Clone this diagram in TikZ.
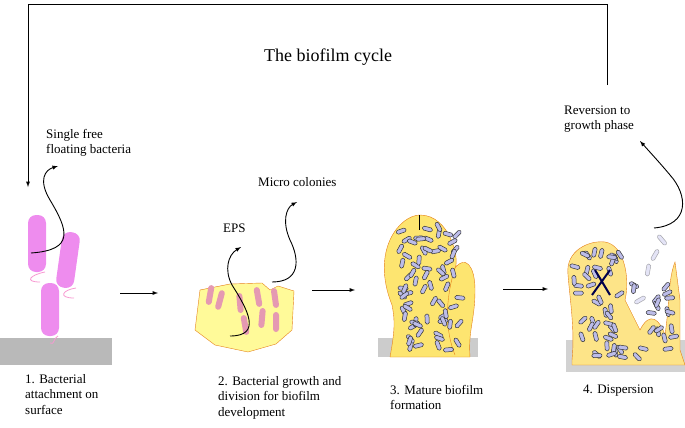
\documentclass[tikz,border=0pt]{standalone}
\usepackage{fontspec}
\setmainfont{Liberation Serif}
\begin{document}
\begin{tikzpicture}[x=1pt,y=-1pt,
  lbl/.style={font=\fontsize{13}{15.5}\selectfont,align=left,inner sep=0pt},
  arr/.style={-latex,line width=0.9pt},
  purp/.style={fill=violet!30!magenta!45,draw=none,rounded corners=8pt},
  rod/.style={fill=gray!50!blue!35,draw=gray!40!black,line width=0.5pt,rounded corners=1.5pt},
  blob/.style={fill=yellow!70!orange!55,draw=orange!60!brown,line width=0.4pt}]
\useasboundingbox (0,0) rectangle (685,428);
% top loop
\coordinate (ls) at (607,85);
\coordinate (le) at (28,187);
\draw[arr] (ls) -- (607,4) -- (28,4) -- (le);
\node[font=\fontsize{18}{20}\selectfont] (title) at (328,57) {The biofilm cycle};
% labels
\node[lbl,anchor=west] (sf) at (46,143) {Single free\\floating bacteria};
\node[lbl,anchor=west] (mc) at (258,182) {Micro colonies};
\node[lbl,anchor=west] (eps) at (223,228) {EPS};
\node[lbl,anchor=west] (rv) at (564,119) {Reversion to\\growth phase};
\node[lbl,anchor=north west] (s1) at (25,374) {1. Bacterial\\attachment on\\surface};
\node[lbl,anchor=north west] (s2) at (218,376) {2. Bacterial growth and\\division for biofilm\\development};
\node[lbl,anchor=north west] (s3) at (390,385) {3. Mature biofilm\\formation};
\node[lbl,anchor=north west] (s4) at (583,385) {4. Dispersion};
% stage 1
\fill[gray!55] (0,338) rectangle (112,365);
\fill[purp] (28,215) rectangle (46,272);
\fill[purp,rotate around={-8:(68,260)}] (59,232) rectangle (77,288);
\fill[purp] (41,283) rectangle (59,336);
\draw[magenta!40,line width=0.8pt] (45,272) .. controls (30,275) and (24,282) .. (40,282)
 (76,288) .. controls (62,290) and (58,298) .. (74,298) (58,336) .. controls (52,340) and (55,345) .. (50,343);
\coordinate (w1a) at (31,253);
\draw[arr] (w1a) .. controls (75,250) and (68,230) .. (50,200) .. controls (38,180) and (45,170) .. (58,166);
% stage 2
\draw[blob,fill=yellow!40] (200,290) -- (230,284) -- (262,283) -- (270,290) -- (278,286) -- (294,291) -- (292,330) -- (276,344) -- (248,352) -- (215,345) -- (195,330) -- cycle;
\foreach \x/\y/\r in {210/295/-10,220/300/-15,240/303/5,258/297/10,262/318/-5,275/298/8,276/322/0,245/325/10}
  \fill[fill=purple!40,rounded corners=3pt,rotate around={\r:(\x,\y)}] (\x-3,\y-10) rectangle (\x+3,\y+10);
\draw[arr] (230,336) .. controls (262,336) and (248,310) .. (232,285) .. controls (224,270) and (228,255) .. (241,247);
\draw[arr] (272,282) .. controls (300,282) and (300,260) .. (290,240) .. controls (282,222) and (286,208) .. (297,202);
% arrows between stages
\draw[arr] (120,293) -- (158,293);
\draw[arr] (312,290) -- (355,290);
\draw[arr] (503,289) -- (548,289);
% stage 3
\fill[gray!40] (378,338) rectangle (478,357);
\draw[blob] (390,357) .. controls (395,330) and (395,320) .. (392,305) .. controls (370,250) and (400,215) .. (420,215) .. controls (450,215) and (460,260) .. (455,268) .. controls (465,255) and (475,265) .. (475,290) .. controls (475,320) and (468,330) .. (470,357) -- cycle;
\draw[orange!60!brown,line width=0.4pt] (455,268) .. controls (445,300) and (445,330) .. (455,355);
\draw (419,215) -- (419,230);
\pgfmathsetseed{7}
\foreach \i in {1,...,70}{
  \pgfmathsetmacro{\px}{400+rnd*60}\pgfmathsetmacro{\py}{225+rnd*125}\pgfmathsetmacro{\pr}{rnd*180}
  \draw[rod,rotate around={\pr:(\px,\py)}] (\px-5,\py-2) rectangle (\px+5,\py+2);}
% stage 4
\fill[gray!35] (566,340) rectangle (685,372);
\draw[blob,fill=yellow!60!orange!45] (572,360) .. controls (575,330) and (570,300) .. (568,275) .. controls (565,250) and (590,240) .. (605,242) .. controls (625,245) and (630,280) .. (625,300) -- (640,330) .. controls (650,310) and (660,320) .. (665,335) .. controls (670,300) and (668,280) .. (675,262) -- (680,300) -- (680,350) -- (685,365) -- (572,365) -- cycle;
\pgfmathsetseed{3}
\foreach \i in {1,...,45}{
  \pgfmathsetmacro{\px}{574+rnd*50}\pgfmathsetmacro{\py}{250+rnd*110}\pgfmathsetmacro{\pr}{rnd*180}
  \draw[rod,rotate around={\pr:(\px,\py)}] (\px-5,\py-2) rectangle (\px+5,\py+2);}
\foreach \i in {1,...,20}{
  \pgfmathsetmacro{\px}{632+rnd*45}\pgfmathsetmacro{\py}{280+rnd*80}\pgfmathsetmacro{\pr}{rnd*180}
  \draw[rod,rotate around={\pr:(\px,\py)}] (\px-5,\py-2) rectangle (\px+5,\py+2);}
\foreach \x/\y/\r in {655/255/60,648/270/80,662/240/-50,640/300/30}
  \draw[rod,opacity=0.4,rotate around={\r:(\x,\y)}] (\x-6,\y-2) rectangle (\x+6,\y+2);
\draw[line width=2pt,blue!30!black] (595,270) -- (610,295) (610,270) -- (592,295);
\draw[arr] (654,228) .. controls (690,225) and (688,195) .. (670,175) .. controls (660,163) and (648,150) .. (640,141);
\end{tikzpicture}
\end{document}
